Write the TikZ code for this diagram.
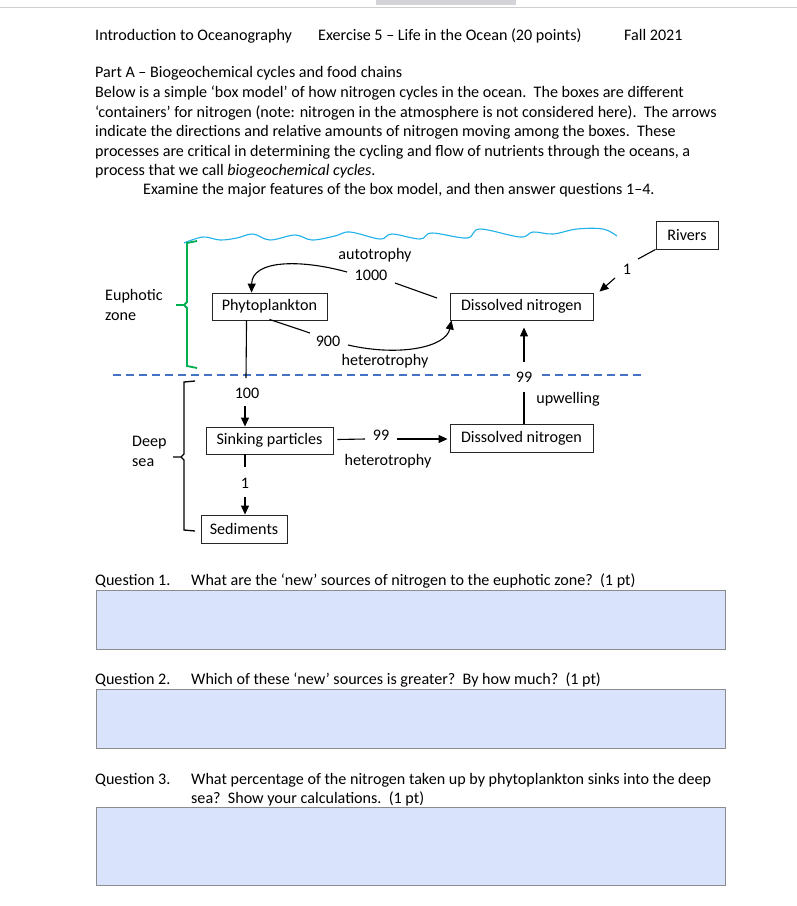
\documentclass[tikz,border=0pt]{standalone}
\usepackage{fontspec}
\setmainfont{Carlito}
\usepackage{xcolor}
\usepackage{tikz}
\usetikzlibrary{positioning,calc,arrows.meta}

\definecolor{wave}{HTML}{1EB1EA}
\definecolor{zonegreen}{HTML}{00B050}
\definecolor{sealine}{HTML}{4472C4}
\definecolor{answer}{HTML}{DAE3FC}
\definecolor{chrome}{HTML}{D4D4D8}
\newcommand{\txtfont}{\fontsize{16.1}{19}\selectfont}

\tikzset{
  txt/.style={anchor=base west, inner sep=0pt, font=\txtfont},
  lbl/.style={anchor=base, inner sep=0pt, font=\txtfont},
  box/.style={draw=black!85, line width=0.9pt, minimum height=27pt, inner sep=0pt, font=\txtfont},
  link/.style={line width=1.1pt},
  flow/.style={line width=1.1pt, -{Triangle[length=9pt,width=8pt]}},
  ansbox/.style={draw=black!45, fill=answer, line width=1pt},
}

\begin{document}
\begin{tikzpicture}[x=1pt,y=-1pt]
    \useasboundingbox (0,0) rectangle (797,906);
    \fill[white] (0,0) rectangle (797,906);

    % Window edge
    \fill[chrome] (376,0) rectangle (516,5);
    \draw[black!18, line width=1pt] (0,7) -- (797,7);

    % Header
    \node[txt] (hcourse) at (95,40) {Introduction to Oceanography};
    \node[txt] (hexer) at (318,40) {Exercise 5 – Life in the Ocean (20 points)};
    \node[txt] (hterm) at (624,40) {Fall 2021};

    % Intro text
    \node[txt] (p1) at (95,77) {Part A – Biogeochemical cycles and food chains};
    \node[txt] (p2) at (95,97) {Below is a simple ‘box model’ of how nitrogen cycles in the ocean.\ \ The boxes are different};
    \node[txt] (p3) at (95,117) {‘containers’ for nitrogen (note: nitrogen in the atmosphere is not considered here).\ \ The arrows};
    \node[txt] (p4) at (95,136) {indicate the directions and relative amounts of nitrogen moving among the boxes.\ \ These};
    \node[txt] (p5) at (95,156) {processes are critical in determining the cycling and flow of nutrients through the oceans, a};
    \node[txt] (p6) at (95,175) {process that we call \textit{biogeochemical cycles}.};
    \node[txt] (p7) at (143,194) {Examine the major features of the box model, and then answer questions 1–4.};

    % Sea surface
    \draw[wave, line width=1.1pt] plot[smooth, tension=0.6] coordinates {
      (184,243) (203,237) (220,240) (237,238) (253,234) (270,240) (295,235)
      (312,240) (335,236) (350,232) (380,239) (392,234) (420,239) (432,233)
      (467,238) (480,229) (520,237) (533,232) (553,234) (577,229) (603,229) (617,236)};

    % Zone boundary
    \draw[sealine, line width=1.4pt, dash pattern=on 8pt off 5pt] (113,375) -- (510,375);
    \draw[sealine, line width=1.4pt, dash pattern=on 8pt off 5pt] (542,375) -- (645,375);

    % Brackets
    \draw[zonegreen, line width=1.8pt] (197,241) -- (187,243) -- (187,302) -- (184,305) -- (176,305)
      (184,305) -- (187,308) -- (187,366) -- (197,368);
    \draw[line width=1.3pt] (195,381) -- (184,382) -- (184,454) -- (181,457) -- (173,457)
      (181,457) -- (184,460) -- (184,530) -- (195,531);
    \node[txt] (euph) at (105,300) {Euphotic};
    \node[txt] (euzone) at (105,320) {zone};
    \node[txt] (deep) at (132,446) {Deep};
    \node[txt] (deepsea) at (132,466) {sea};

    % Boxes
    \node[box, minimum width=115pt] (phyto) at (269.5,306.5) {Phytoplankton};
    \node[box, minimum width=143pt] (dnup) at (521.5,306.5) {Dissolved nitrogen};
    \node[box, minimum width=62pt, minimum height=28pt] (rivers) at (687,235) {Rivers};
    \node[box, minimum width=127pt] (sinking) at (269.5,440.5) {Sinking particles};
    \node[box, minimum width=143pt, minimum height=28pt] (dnlow) at (521.5,438) {Dissolved nitrogen};
    \node[box, minimum width=86pt, minimum height=28pt] (sed) at (244,529) {Sediments};

    % Labels
    \node[lbl] (lauto) at (375,259) {autotrophy};
    \node[lbl] (lthousand) at (371,280) {1000};
    \node[lbl] (lnine) at (328,346) {900};
    \node[lbl] (lhetup) at (385,365) {heterotrophy};
    \node[lbl] (lriv) at (627,274) {1};
    \node[lbl] (lhundred) at (247,398) {100};
    \node[lbl] (lsed) at (245,488) {1};
    \node[lbl] (lninety) at (381,440) {99};
    \node[lbl] (lhetlow) at (388,465) {heterotrophy};
    \node[lbl] (lupw) at (524,382) {99};
    \node[lbl] (lupwtxt) at (568,403) {upwelling};

    % Break points
    \coordinate (auA) at (437,298);
    \coordinate (auB) at (395,283);
    \coordinate (auC) at (347,272);
    \coordinate (htA) at (310,333);
    \coordinate (htB) at (348,345);
    \coordinate (pA) at (246,378);
    \coordinate (pB) at (245,406);
    \coordinate (sA) at (245,467);
    \coordinate (sB) at (245,497);
    \coordinate (hA) at (365,439);
    \coordinate (hB) at (397,439);
    \coordinate (uA) at (524,392);
    \coordinate (uB) at (524,362);
    \coordinate (rA) at (638,259);
    \coordinate (rB) at (615,278);

    % Flows
    \draw[link] (auA) -- (auB);
    \draw[flow] (auC) .. controls (300,259) and (252,260) .. ($(phyto.north west)+(40,0)$);
    \draw[link] ($(phyto.south)+(0,-1)$) -- (htA);
    \draw[flow] (htB) .. controls (400,357) and (446,347) .. ($(dnup.south west)+(2,0)$);
    \draw[link] ($(phyto.south west)+(35,0)$) -- (pA);
    \draw[flow] (pB) -- (pB |- sinking.north);
    \draw[link] (sinking.south -| sA) -- (sA);
    \draw[flow] (sB) -- (sB |- sed.north);
    \draw[link] ($(sinking.east)+(4,-1)$) -- (hA);
    \draw[flow] (hB) -- ($(dnlow.west)+(-2,1)$);
    \draw[link] (dnlow.north -| uA) -- (uA);
    \draw[flow] (uB) -- ($(uB |- dnup.south)+(0,7)$);
    \draw[link] (rivers.south west) -- (rA);
    \draw[flow] (rB) -- ($(dnup.north east)+(6,-1)$);

    % Questions
    \node[txt] (q1) at (95,585) {Question 1.};
    \node[txt] (q1t) at (191,585) {What are the ‘new’ sources of nitrogen to the euphotic zone?\ \ (1 pt)};
    \draw[ansbox] (96,590) rectangle (725,649);
    \node[txt] (q2) at (95,684) {Question 2.};
    \node[txt] (q2t) at (191,684) {Which of these ‘new’ sources is greater?\ \ By how much?\ \ (1 pt)};
    \draw[ansbox] (96,689) rectangle (725,748);
    \node[txt] (q3) at (95,784) {Question 3.};
    \node[txt] (q3t) at (191,784) {What percentage of the nitrogen taken up by phytoplankton sinks into the deep};
    \node[txt] (q3u) at (191,803) {sea?\ \ Show your calculations.\ \ (1 pt)};
    \draw[ansbox] (96,807) rectangle (725,885);
\end{tikzpicture}
\end{document}
